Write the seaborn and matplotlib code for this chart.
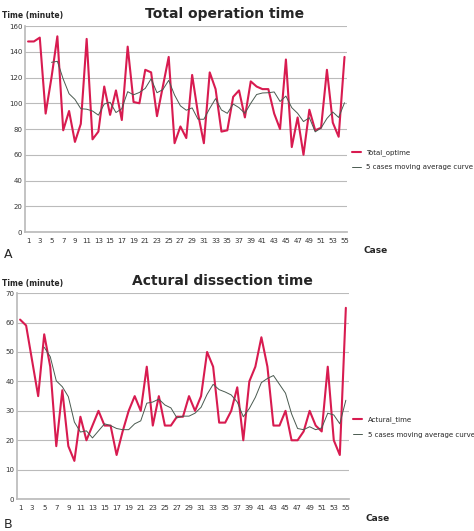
import numpy as np
import pandas as pd
import matplotlib
matplotlib.use("Agg")
import matplotlib.pyplot as plt
import seaborn as sns

sns.set_theme(style="white")
plt.rcParams['font.family'] = ['DejaVu Sans']

cases = list(range(1, 56))
total_optime = [148, 148, 151, 92, 120, 152, 79, 94, 70, 84,
                150, 72, 78, 113, 91, 110, 87, 144, 101, 100,
                126, 124, 90, 113, 136, 69, 82, 73, 122, 92,
                69, 124, 111, 78, 79, 105, 110, 89, 117, 113,
                111, 111, 92, 80, 134, 66, 89, 60, 95, 79,
                81, 126, 85, 74, 136]
actual_time = [61, 59, 47, 35, 56, 45, 18, 37, 18, 13,
               28, 20, 25, 30, 25, 25, 15, 23, 30, 35,
               30, 45, 25, 35, 25, 25, 28, 28, 35, 30,
               35, 50, 45, 26, 26, 30, 38, 20, 40, 45,
               55, 45, 25, 25, 30, 20, 20, 23, 30, 25,
               23, 45, 20, 15, 65]
ticks = list(range(1, 56, 2))

df = pd.DataFrame({"Case": cases, "Total_optime": total_optime, "Actural_time": actual_time})
df["ma_top"] = df["Total_optime"].rolling(5).mean()
df["ma_bot"] = df["Actural_time"].rolling(5).mean()

fig = plt.figure(figsize=(4.74, 5.31), dpi=100)
ax1 = fig.add_axes([0.053, 0.563, 0.68, 0.388])
ax2 = fig.add_axes([0.036, 0.06, 0.70, 0.388])

red = "#d81b50"
panels = [
    (ax1, "Total_optime", "ma_top", "Total operation time", (0, 160), 20, 0.962),
    (ax2, "Actural_time", "ma_bot", "Actural dissection time", (0, 70), 10, 0.458),
]
for ax, col, ma, title, ylim, step, ty in panels:
    sns.lineplot(data=df, x="Case", y=col, ax=ax, color=red, lw=1.5, label=col)
    sns.lineplot(data=df, x="Case", y=ma, ax=ax, color="#4a5a50", lw=0.7,
                 label="5 cases moving average curve")
    ax.set_xlim(0.5, 55.5)
    ax.set_ylim(*ylim)
    ax.set_yticks(np.arange(ylim[0], ylim[1] + 1, step))
    ax.set_xticks(ticks)
    ax.set_xticks(cases, minor=True)
    ax.tick_params(axis='both', labelsize=5, colors="#333333", length=0, pad=2)
    ax.tick_params(axis='x', which='both', length=2, color="#aaaaaa", direction='out')
    ax.yaxis.grid(True, color="#bbbbbb", lw=0.8)
    for s in ["top", "right"]:
        ax.spines[s].set_visible(False)
    for s in ["left", "bottom"]:
        ax.spines[s].set_color("#bbbbbb")
    ax.set_xlabel("")
    ax.set_ylabel("")
    ax.set_title(title, fontsize=10, fontweight="bold", pad=6, x=0.62)
    fig.text(0.004, ty, "Time (minute)", fontsize=5.5, fontweight="bold", va="bottom")
    ax.text(1.05, -0.07, "Case", transform=ax.transAxes, fontsize=6.5,
            fontweight="bold", ha="left", va="top")
    ax.legend(loc="center left", bbox_to_anchor=(1.0, 0.35), frameon=False,
              fontsize=5, handlelength=1.3, labelspacing=1.2, borderaxespad=0.2)

fig.text(0.008, 0.515, "A", fontsize=9)
fig.text(0.008, 0.005, "B", fontsize=9)

fig.savefig("out.png", dpi=100)
